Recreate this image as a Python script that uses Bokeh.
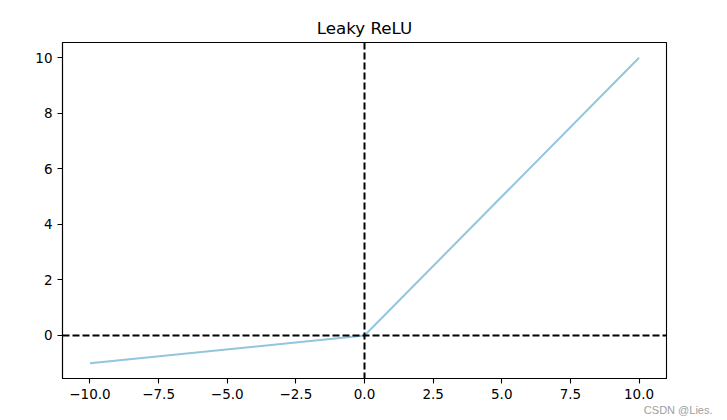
from bokeh.plotting import figure
from bokeh.models import ColumnDataSource, Span, Title, FixedTicker, Range1d
from bokeh.embed import file_html
from bokeh.resources import INLINE

# Leaky ReLU (alpha = 0.1) sampled at its break points
x_vals = [-10.0, 0.0, 10.0]
y_vals = [-1.0, 0.0, 10.0]

x_ticks = [-10.0, -7.5, -5.0, -2.5, 0.0, 2.5, 5.0, 7.5, 10.0]
x_tick_labels = ["\u221210.0", "\u22127.5", "\u22125.0", "\u22122.5", "0.0", "2.5", "5.0", "7.5", "10.0"]
y_ticks = [0, 2, 4, 6, 8, 10]
y_tick_labels = ["0", "2", "4", "6", "8", "10"]

FONT = "DejaVu Sans"

p = figure(width=727, height=420, output_backend="svg", toolbar_location=None,
           x_range=Range1d(-11, 11), y_range=Range1d(-1.55, 10.55),
           title="Leaky ReLU")
p.min_border_left = 62
p.min_border_right = 61
p.min_border_top = 42
p.min_border_bottom = 42

p.title.align = "center"
p.title.text_font = FONT
p.title.text_font_size = "16.7px"
p.title.text_font_style = "normal"
p.title.text_color = "black"

p.grid.visible = False
p.outline_line_color = "black"
p.outline_line_width = 1.1
p.background_fill_color = "white"
p.border_fill_color = "white"

for ax in (p.xaxis, p.yaxis):
    ax.axis_line_color = "black"
    ax.axis_line_width = 1.1
    ax.major_tick_line_color = "black"
    ax.major_tick_line_width = 1.1
    ax.major_tick_out = 5
    ax.major_tick_in = 0
    ax.minor_tick_line_color = None
    ax.major_label_text_font = FONT
    ax.major_label_text_font_size = "13.5px"
    ax.major_label_text_color = "black"
    ax.major_label_standoff = 5

p.xaxis.ticker = FixedTicker(ticks=x_ticks)
p.xaxis.major_label_overrides = dict(zip(x_ticks, x_tick_labels))
p.yaxis.ticker = FixedTicker(ticks=y_ticks)
p.yaxis.major_label_overrides = dict(zip(y_ticks, y_tick_labels))

source = ColumnDataSource(data=dict(x=x_vals, y=y_vals))
p.line("x", "y", source=source, line_color="#92c5de", line_width=2)

p.add_layout(Span(location=0, dimension="height", line_color="black",
                  line_width=2, line_dash="7 3"))
p.add_layout(Span(location=0, dimension="width", line_color="black",
                  line_width=2, line_dash="7 3"))

# watermark under the x axis, pushed past the frame's right edge
wm = Title(text="CSDN @Lies.", align="right", offset=-46, standoff=0,
           text_font="Liberation Sans", text_font_size="11px",
           text_font_style="normal", text_color="#a0a0a0")
p.add_layout(wm, "below")

open("out.html", "w").write(file_html(p, INLINE))
